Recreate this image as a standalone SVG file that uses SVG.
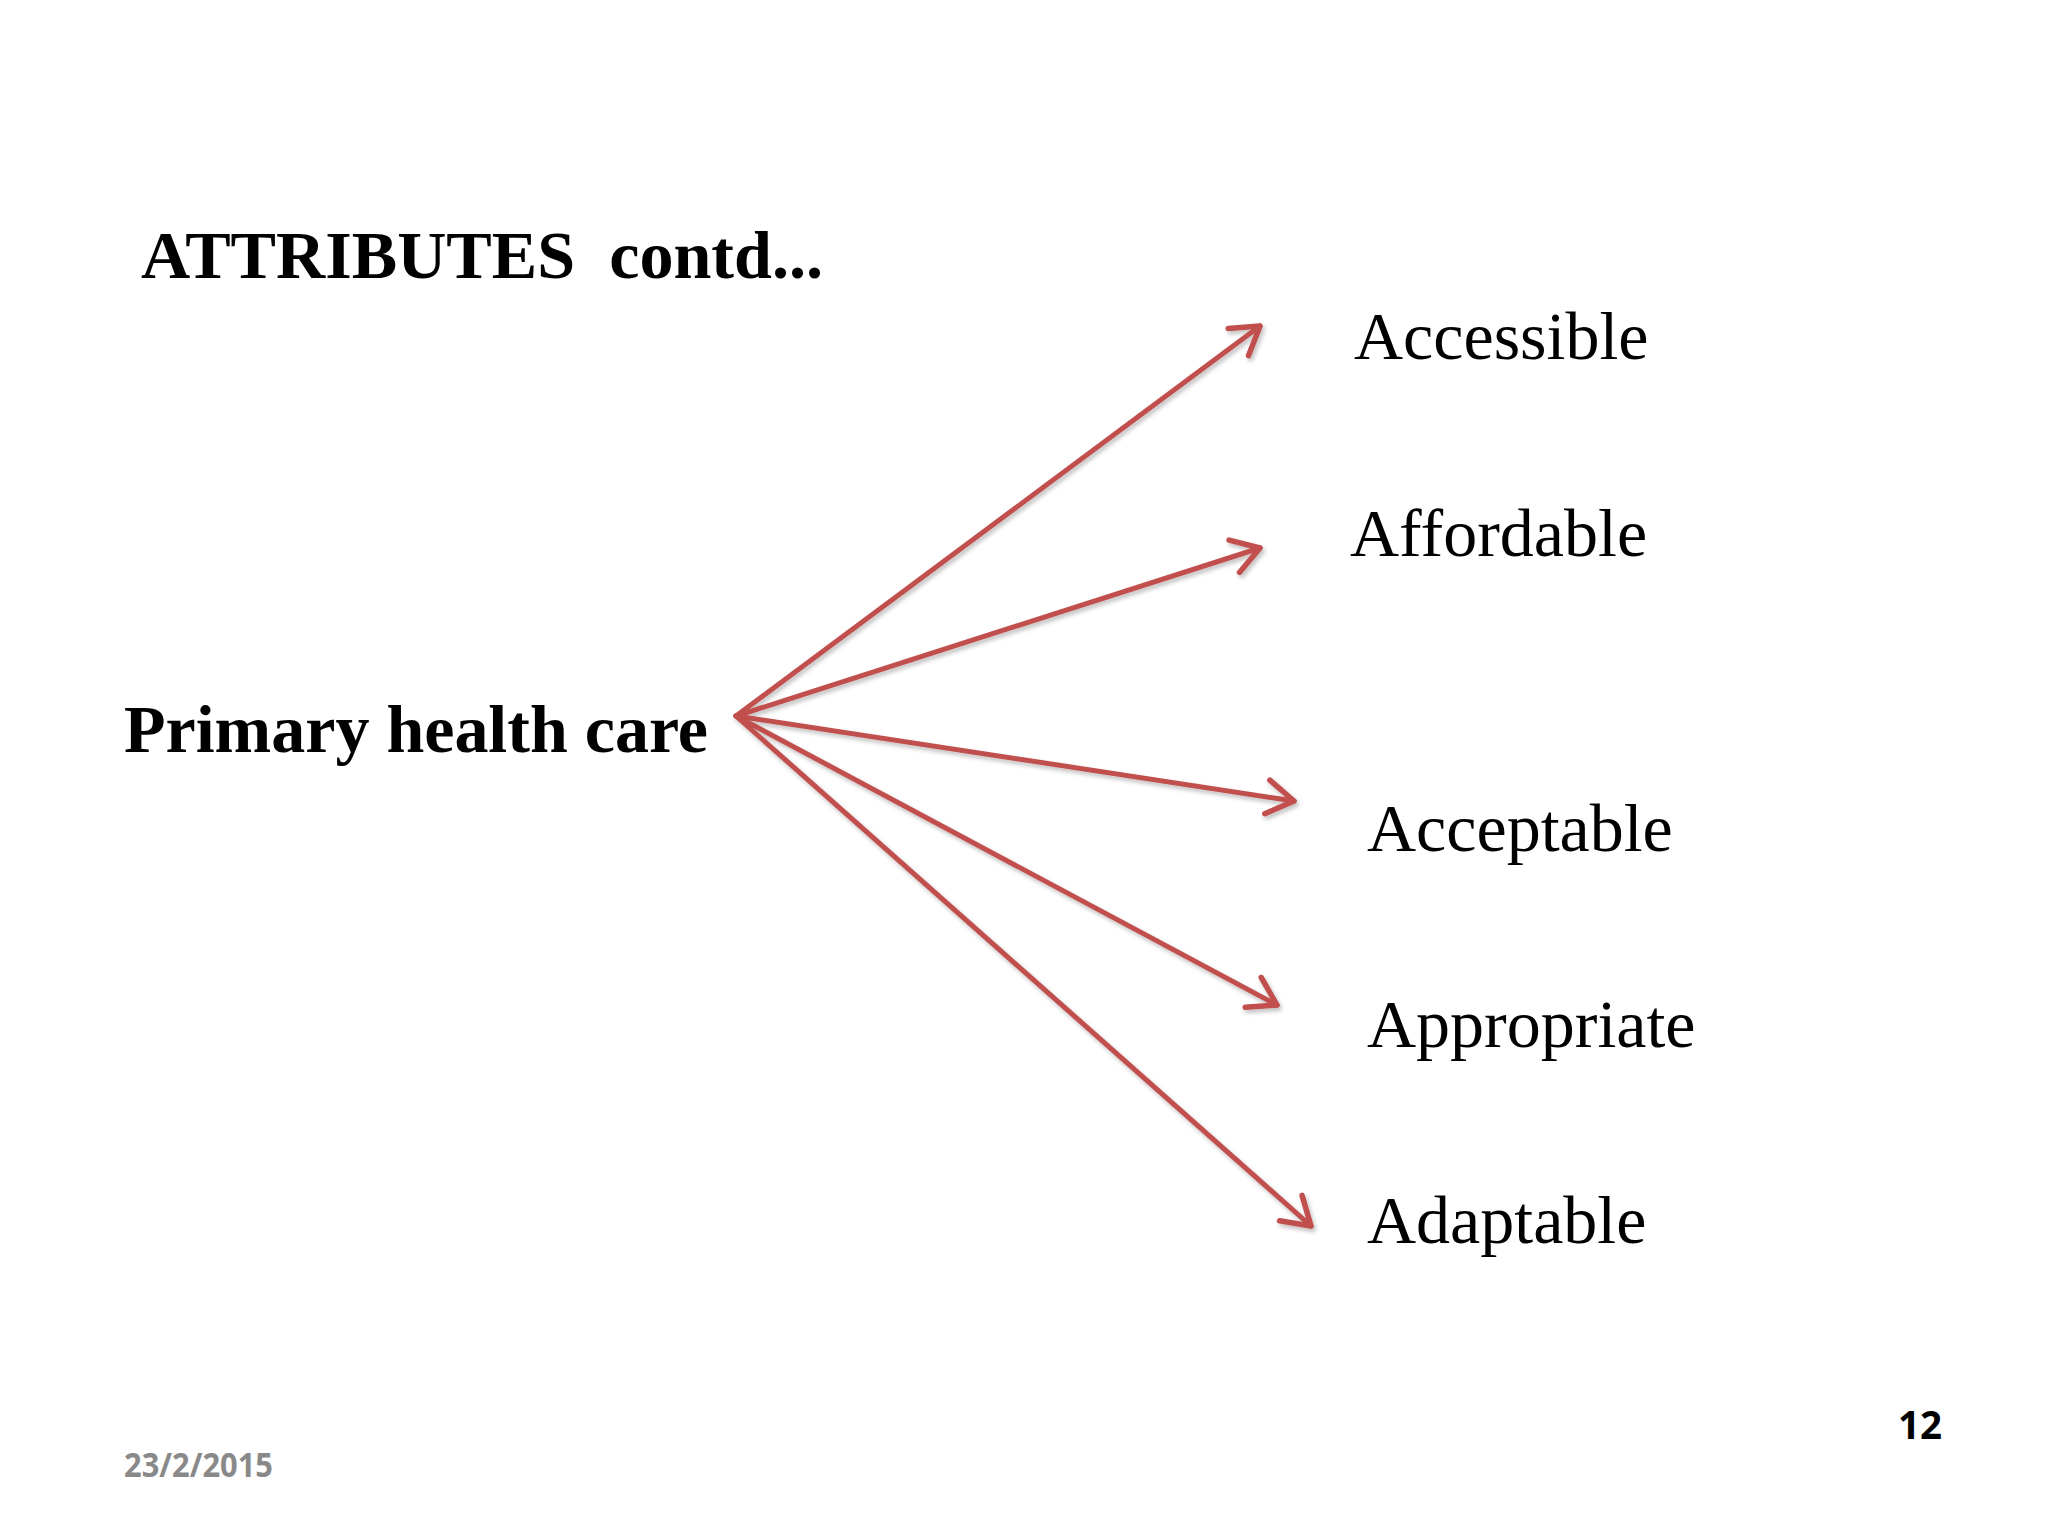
<svg xmlns="http://www.w3.org/2000/svg" width="2048" height="1536" viewBox="0 0 2048 1536">
  <defs>
    <marker id="arrow" markerWidth="8" markerHeight="8" refX="6" refY="4" orient="auto" markerUnits="strokeWidth">
      <path d="M0.6,0.6 L6,4 L0.6,7.4" fill="none" stroke="#C0504D" stroke-width="1.1" stroke-linecap="round" stroke-linejoin="round"/>
    </marker>
    <filter id="shadow" x="-10%" y="-10%" width="120%" height="120%">
      <feDropShadow dx="2" dy="3" stdDeviation="2" flood-color="#000000" flood-opacity="0.25"/>
    </filter>
  </defs>
  <style>
    .bold { font-family: "Liberation Serif", "Times New Roman", serif; font-weight: bold; font-size: 68px; fill: #000000; }
    .label { font-family: "Liberation Serif", "Times New Roman", serif; font-size: 68px; fill: #000000; }
    .conn { stroke: #C0504D; stroke-width: 5; fill: none; stroke-linecap: round; marker-end: url(#arrow); }
    .foot { font-family: "Open Sans", "Liberation Sans", sans-serif; font-weight: bold; }
  </style>
  <rect x="0" y="0" width="2048" height="1536" fill="#FFFFFF"/>

  <g id="title">
    <text class="bold" x="141" y="278" textLength="682" lengthAdjust="spacingAndGlyphs" xml:space="preserve">ATTRIBUTES  contd...</text>
  </g>

  <g id="connectors" filter="url(#shadow)">
    <line class="conn" x1="736" y1="716" x2="1260" y2="326"/>
    <line class="conn" x1="736" y1="716" x2="1260" y2="548"/>
    <line class="conn" x1="736" y1="716" x2="1294" y2="801"/>
    <line class="conn" x1="736" y1="716" x2="1277" y2="1005"/>
    <line class="conn" x1="736" y1="716" x2="1311" y2="1226"/>
  </g>

  <g id="node-phc">
    <text class="bold" x="124" y="752" textLength="584" lengthAdjust="spacingAndGlyphs">Primary health care</text>
  </g>
  <g id="node-accessible">
    <text class="label" x="1354" y="359">Accessible</text>
  </g>
  <g id="node-affordable">
    <text class="label" x="1350" y="556">Affordable</text>
  </g>
  <g id="node-acceptable">
    <text class="label" x="1367" y="851">Acceptable</text>
  </g>
  <g id="node-appropriate">
    <text class="label" x="1367" y="1047">Appropriate</text>
  </g>
  <g id="node-adaptable">
    <text class="label" x="1367" y="1243">Adaptable</text>
  </g>

  <g id="footer">
    <text class="foot" x="124" y="1477" font-size="34" fill="#898989" textLength="149" lengthAdjust="spacingAndGlyphs">23/2/2015</text>
    <text class="foot" x="1898" y="1439" font-size="40" fill="#000000" textLength="44" lengthAdjust="spacingAndGlyphs">12</text>
  </g>
</svg>
